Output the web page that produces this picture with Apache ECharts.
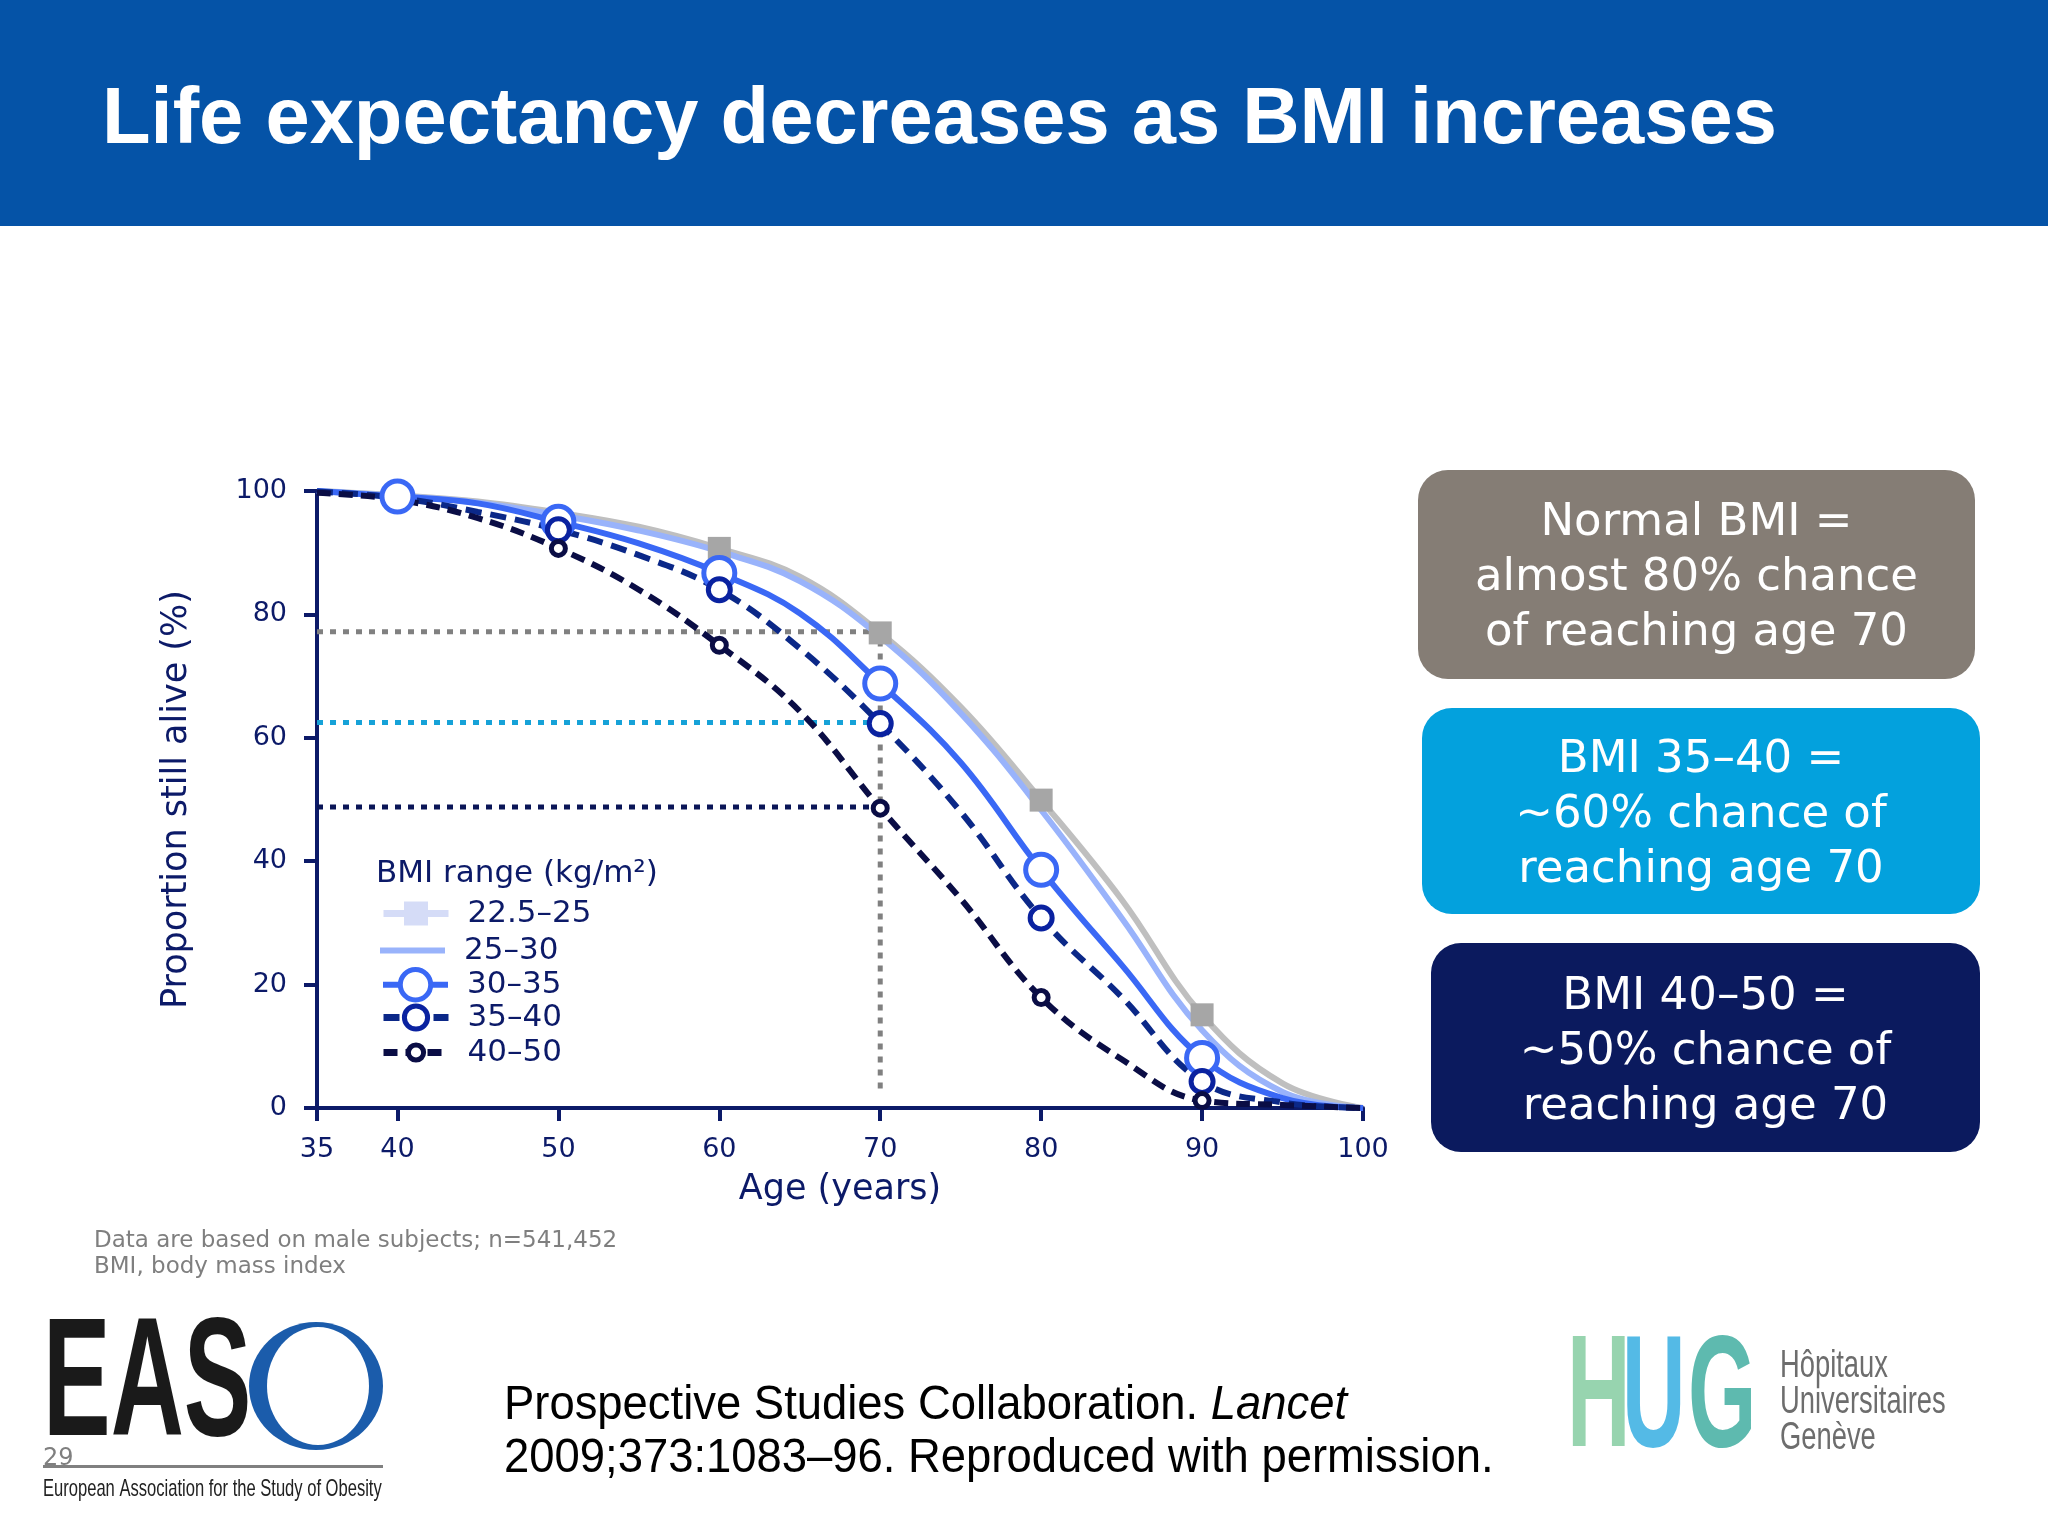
<!DOCTYPE html>
<html>
<head>
<meta charset="utf-8">
<title>Life expectancy decreases as BMI increases</title>
<script src="https://cdn.jsdelivr.net/npm/echarts@6/dist/echarts.min.js"></script>
<style>
  html, body { margin: 0; padding: 0; background: #fff; }
  #chart { width: 2048px; height: 1536px; }
</style>
</head>
<body>
<div id="chart"></div>
<script>
// ages, one value every 5 years
const ages = [35, 40, 45, 50, 55, 60, 65, 70, 75, 80, 85, 90, 95, 100]
// proportion still alive (%) per BMI band
const bmi22to25 = [100, 99.3, 98.3, 96.5, 94.2, 90.7, 86.1, 77.0, 65.0, 49.9, 33.8, 15.1, 4.0, 0]
const bmi25to30 = [100, 99.2, 98.1, 96.1, 93.6, 90.2, 85.4, 76.4, 64.0, 48.3, 30.8, 12.6, 2.6, 0]
const bmi30to35 = [100, 99.1, 98.0, 95.0, 91.5, 86.7, 80.2, 68.8, 56.0, 38.6, 23.2, 8.1, 1.6, 0]
const bmi35to40 = [99.9, 98.9, 96.6, 93.7, 89.6, 84.0, 74.5, 62.3, 48.0, 30.8, 18.0, 4.3, 0.9, 0]
const bmi40to50 = [99.7, 98.6, 95.6, 90.7, 84.0, 75.0, 64.3, 48.6, 33.9, 17.9, 7.9, 1.2, 0.5, 0]

// ages where each curve carries a marker
const squareAges = [60, 70, 80, 90]
const bigCircleAges = [40, 50, 60, 70, 80, 90]
const midCircleAges = [50, 60, 70, 80, 90]
const smallCircleAges = [50, 60, 70, 80, 90]

// dotted guides at age 70
const guideAge = 70
const guideNormal = 77.2
const guide35to40 = 62.5
const guide40to50 = 48.8
const guideBottom = 3

const xTicks = [35, 40, 50, 60, 70, 80, 90, 100]
const legendNames = ['22.5–25', '25–30', '30–35', '35–40', '40–50']

const navy = '#0c1a68'
const font = 'DejaVu Sans'

function curve(values, markAges) {
  return ages.map((a, i) => ({
    value: [a, values[i]],
    symbol: markAges.includes(a) ? undefined : 'none'
  }))
}

function guide(y) {
  return [[ages[0], y], [guideAge, y]]
}

function dotted(color) {
  return {
    type: 'line', data: [], symbol: 'none', silent: true, z: 1,
    lineStyle: { color: color, width: 5, type: [6, 7], cap: 'butt' }
  }
}

const gNormal = dotted('#808080')
gNormal.data = [[ages[0], guideNormal], [guideAge, guideNormal], [guideAge, guideBottom]]
const gMid = dotted('#16a2d8')
gMid.data = guide(guide35to40)
const gHigh = dotted('#0a1557')
gHigh.data = guide(guide40to50)

const series = [
  gNormal, gMid, gHigh,
  {
    name: legendNames[0], type: 'line', smooth: 0.4,
    data: curve(bmi22to25, squareAges),
    symbol: 'rect', symbolSize: 23, color: '#a6a6a6',
    lineStyle: { color: '#bfbfbf', width: 6 },
    itemStyle: { color: '#a6a6a6', borderWidth: 0 }
  },
  {
    name: legendNames[1], type: 'line', smooth: 0.4,
    data: curve(bmi25to30, []),
    symbol: 'none', color: '#99b3fb',
    lineStyle: { color: '#99b3fb', width: 6 }
  },
  {
    name: legendNames[2], type: 'line', smooth: 0.4,
    data: curve(bmi30to35, bigCircleAges),
    symbol: 'circle', symbolSize: 31, color: '#3a68f5',
    lineStyle: { color: '#3a68f5', width: 6 },
    itemStyle: { color: '#fff', borderColor: '#3a68f5', borderWidth: 5 }
  },
  {
    name: legendNames[3], type: 'line', smooth: 0.4,
    data: curve(bmi35to40, midCircleAges),
    symbol: 'circle', symbolSize: 22, color: '#0b2888',
    lineStyle: { color: '#0b2888', width: 6, type: [16, 9] },
    itemStyle: { color: '#fff', borderColor: '#0a22a0', borderWidth: 5 }
  },
  {
    name: legendNames[4], type: 'line', smooth: 0.4,
    data: curve(bmi40to50, smallCircleAges),
    symbol: 'circle', symbolSize: 14, color: '#0a0d45',
    lineStyle: { color: '#0a0d45', width: 6, type: [14, 8] },
    itemStyle: { color: '#fff', borderColor: '#0a0d45', borderWidth: 5 }
  }
]

// one legend per band so each keeps its own marker size
const legendRows = [
  { name: legendNames[0], top: 898, h: 30, bw: 0, lw: 7, extra: { itemStyle: { color: '#d5dcf7' }, lineStyle: { color: '#d5dcf7' } } },
  { name: legendNames[1], top: 935, h: 6, bw: 0, lw: 6, extra: { icon: 'rect' } },
  { name: legendNames[2], top: 967, h: 38, bw: 5, lw: 6, extra: {} },
  { name: legendNames[3], top: 1002, h: 29, bw: 5, lw: 7, extra: {} },
  { name: legendNames[4], top: 1037, h: 19, bw: 5, lw: 7, extra: {} }
]
const legends = legendRows.map(r => ({
  left: 380, top: r.top, orient: 'vertical', padding: 0,
  itemWidth: 65, itemHeight: r.h, selectedMode: false,
  itemStyle: { borderWidth: r.bw },
  lineStyle: { width: r.lw },
  textStyle: { fontFamily: font, fontSize: 31, color: navy, padding: [0, 0, 0, 14] },
  data: [Object.assign({ name: r.name }, r.extra)]
}))

function box(x, y, w, h, color, lines, cy) {
  return [
    { type: 'rect', shape: { x: x, y: y, width: w, height: h, r: 30 }, style: { fill: color } },
    {
      type: 'text', x: x + w / 2, y: cy,
      style: {
        text: lines.join('\n'), fill: '#fff', font: '45px "DejaVu Sans"',
        align: 'center', verticalAlign: 'middle', lineHeight: 55
      }
    }
  ]
}

const graphics = [
  { type: 'rect', shape: { x: 0, y: 0, width: 2048, height: 226 }, style: { fill: '#0553a7' } },
  {
    type: 'text', x: 102, y: 121,
    style: { text: 'Life expectancy decreases as BMI increases', fill: '#fff', font: 'bold 79.5px "Liberation Sans"', verticalAlign: 'middle' }
  },
  ...box(1418, 470, 557, 209, '#857d75', ['Normal BMI =', 'almost 80% chance', 'of reaching age 70'], 578),
  ...box(1422, 708, 558, 206, '#03a1dd', ['BMI 35–40 =', '~60% chance of', 'reaching age 70'], 815),
  ...box(1431, 943, 549, 209, '#0b1a5e', ['BMI 40–50 =', '~50% chance of', 'reaching age 70'], 1052),
  {
    type: 'text', x: 376, y: 874,
    style: { text: 'BMI range (kg/m²)', fill: navy, font: '31px "DejaVu Sans"', verticalAlign: 'middle' }
  },
  {
    type: 'text', x: 94, y: 1241,
    style: { text: 'Data are based on male subjects; n=541,452', fill: '#7f7f7f', font: '23px "DejaVu Sans"', verticalAlign: 'middle' }
  },
  {
    type: 'text', x: 94, y: 1267,
    style: { text: 'BMI, body mass index', fill: '#7f7f7f', font: '23px "DejaVu Sans"', verticalAlign: 'middle' }
  },
  {
    type: 'text', x: 504, y: 1406, scaleX: 0.946,
    style: {
      text: '{n|Prospective Studies Collaboration. }{i|Lancet}', verticalAlign: 'middle',
      rich: {
        n: { fontFamily: 'Liberation Sans', fontSize: 48, fill: '#000' },
        i: { fontFamily: 'Liberation Sans', fontSize: 48, fontStyle: 'italic', fill: '#000' }
      }
    }
  },
  {
    type: 'text', x: 504, y: 1459, scaleX: 0.946,
    style: { text: '2009;373:1083–96. Reproduced with permission.', fill: '#000', font: '48px "Liberation Sans"', verticalAlign: 'middle' }
  },
  // EASO logo
  {
    type: 'text', x: 43, y: 1388, scaleX: 0.6,
    style: { text: 'EAS', fill: '#1a1a1a', font: 'bold 169px "Liberation Sans"', verticalAlign: 'middle' }
  },
  { type: 'ellipse', shape: { cx: 316, cy: 1386, rx: 67, ry: 64 }, style: { fill: '#1b5cab' } },
  { type: 'ellipse', shape: { cx: 318, cy: 1386, rx: 51, ry: 59 }, style: { fill: '#fff' } },
  { type: 'rect', shape: { x: 43, y: 1465, width: 340, height: 3 }, style: { fill: '#808080' } },
  {
    type: 'text', x: 43, y: 1459,
    style: { text: '29', fill: '#7f7f7f', font: '24px "DejaVu Sans"', verticalAlign: 'middle' }
  },
  {
    type: 'text', x: 43, y: 1489, scaleX: 0.69,
    style: { text: 'European Association for the Study of Obesity', fill: '#222', font: '24px "Liberation Sans"', verticalAlign: 'middle' }
  },
  // HUG logo
  {
    type: 'text', x: 1567, y: 1402, scaleX: 0.55,
    style: { text: 'H', fill: '#8ccfa6', font: 'bold 160px "Liberation Sans"', verticalAlign: 'middle', opacity: 0.9 }
  },
  {
    type: 'text', x: 1622, y: 1402, scaleX: 0.55,
    style: { text: 'U', fill: '#36aee2', font: 'bold 160px "Liberation Sans"', verticalAlign: 'middle', opacity: 0.85 }
  },
  {
    type: 'text', x: 1688, y: 1402, scaleX: 0.55,
    style: { text: 'G', fill: '#4cb2a6', font: 'bold 160px "Liberation Sans"', verticalAlign: 'middle', opacity: 0.9 }
  },
  {
    type: 'text', x: 1780, y: 1403, scaleX: 0.72,
    style: { text: 'Hôpitaux\nUniversitaires\nGenève', fill: '#6d6d6d', font: '38px "Liberation Sans"', verticalAlign: 'middle', lineHeight: 36 }
  }
]

const chart = echarts.init(document.getElementById('chart'))
chart.setOption({
  animation: false,
  backgroundColor: '#fff',
  grid: { left: 317, right: 685, top: 491, bottom: 428, outerBoundsMode: 'none' },
  xAxis: {
    type: 'value', min: 35, max: 100,
    name: 'Age (years)', nameLocation: 'middle', nameGap: 64,
    nameTextStyle: { fontFamily: font, fontSize: 35, color: navy },
    axisLine: { show: true, lineStyle: { color: navy, width: 4 } },
    axisTick: { show: true, customValues: xTicks, length: 13, lineStyle: { color: navy, width: 4 } },
    axisLabel: { customValues: xTicks, margin: 28, fontFamily: font, fontSize: 27, color: navy },
    splitLine: { show: false }
  },
  yAxis: {
    type: 'value', min: 0, max: 100, interval: 20,
    name: 'Proportion still alive (%)', nameLocation: 'middle', nameGap: 123,
    nameTextStyle: { fontFamily: font, fontSize: 35, color: navy },
    axisLine: { show: true, lineStyle: { color: navy, width: 4 } },
    axisTick: { show: true, length: 13, lineStyle: { color: navy, width: 4 } },
    axisLabel: { margin: 30, fontFamily: font, fontSize: 27, color: navy },
    splitLine: { show: false }
  },
  legend: legends,
  series: series.map(s => Object.assign({ emphasis: { disabled: true } }, s)),
  graphic: graphics
})
</script>
</body>
</html>
